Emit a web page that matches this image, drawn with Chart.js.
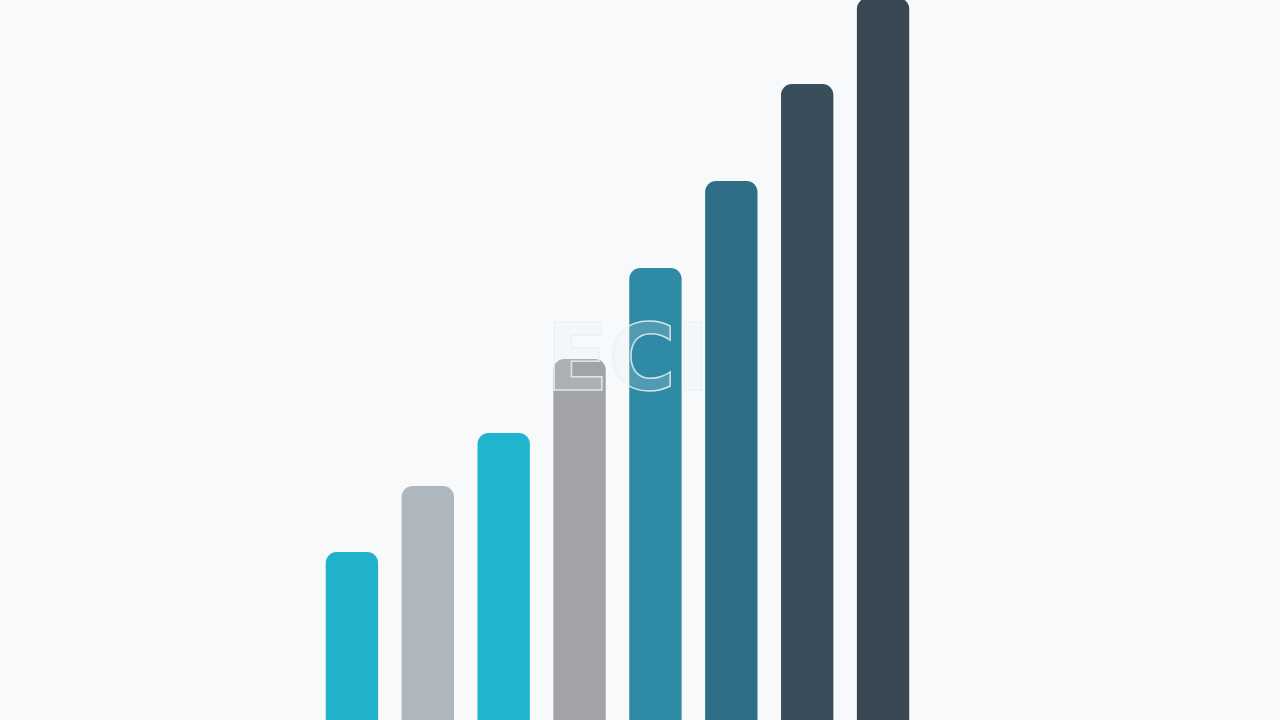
<!DOCTYPE html>
<html>
<head>
<meta charset="utf-8">
<script src="https://cdn.jsdelivr.net/npm/chart.js@4/dist/chart.umd.min.js"></script>
<style>
html,body{margin:0;padding:0;background:#f8f9fa;}
#wrap{width:1280px;height:720px;position:relative;}
</style>
</head>
<body>
<div id="wrap"><canvas id="c" width="1280" height="720"></canvas></div>
<script>
const categories = ["1","2","3","4","5","6","7","8"];
const values = [168, 234, 287, 361, 452, 539, 636, 722];
const barColors = ["#20b1cb","#afb7be","#20b4cf","#a2a3a6","#2f8aa5","#2e6e87","#3a4d5b","#3a4853"];
const watermark = "ECI";

const watermarkPlugin = {
  id: 'wm',
  afterDatasetsDraw(chart) {
    const ctx = chart.ctx;
    ctx.save();
    ctx.font = '600 92px "DejaVu Sans", sans-serif';
    ctx.textAlign = 'center';
    ctx.textBaseline = 'middle';
    ctx.lineWidth = 1.5;
    ctx.strokeStyle = 'rgba(235,240,244,0.85)';
    ctx.strokeText(watermark, 628, 366);
    ctx.fillStyle = 'rgba(230,236,240,0.18)';
    ctx.fillText(watermark, 628, 366);
    ctx.restore();
  }
};

new Chart(document.getElementById('c'), {
  type: 'bar',
  data: {
    labels: categories,
    datasets: [{
      data: values,
      backgroundColor: barColors,
      borderRadius: {topLeft: 11, topRight: 11, bottomLeft: 0, bottomRight: 0},
      borderSkipped: 'bottom',
      barPercentage: 0.69,
      categoryPercentage: 1.0
    }]
  },
  options: {
    responsive: false,
    animation: false,
    layout: {padding: {left: 314, right: 359, top: 0, bottom: 0}},
    plugins: {legend: {display: false}, tooltip: {enabled: false}},
    scales: {
      x: {display: false},
      y: {display: false, min: 0, max: 720}
    }
  },
  plugins: [watermarkPlugin]
});
</script>
</body>
</html>
